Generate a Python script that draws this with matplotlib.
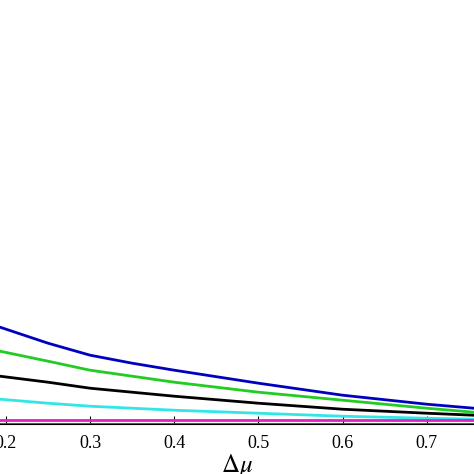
import matplotlib
matplotlib.use("Agg")
import matplotlib.pyplot as plt

x = [0.193, 0.25, 0.3, 0.35, 0.4, 0.5, 0.6, 0.7, 0.756]
blue = [0.97, 0.81, 0.69, 0.61, 0.54, 0.41, 0.29, 0.20, 0.16]
green = [0.73, 0.63, 0.54, 0.48, 0.42, 0.32, 0.24, 0.16, 0.12]
black = [0.48, 0.42, 0.36, 0.32, 0.28, 0.21, 0.15, 0.11, 0.09]
cyan = [0.25, 0.21, 0.18, 0.16, 0.14, 0.11, 0.08, 0.06, 0.05]
magenta = [0.04, 0.04, 0.04, 0.04, 0.04, 0.04, 0.04, 0.04, 0.04]
red = [0.005] * 9
xticks = [0.2, 0.3, 0.4, 0.5, 0.6, 0.7]

plt.rcParams['font.family'] = ['Liberation Serif', 'DejaVu Serif']
plt.rcParams['mathtext.fontset'] = 'stix'
fig = plt.figure(figsize=(4.74, 4.74), dpi=100)
ax = fig.add_axes([0.0, 0.105, 1.0, 0.895])
for y, c in [(blue, '#0000c0'), (green, '#22cc22'), (black, 'black'),
             (cyan, '#33e6e6'), (magenta, '#e020c0'), (red, '#c01040')]:
    ax.plot(x, y, color=c, lw=2)
ax.set_xlim(0.193, 0.756)
ax.set_ylim(0, 4.24)
ax.set_xticks(xticks)
ax.set_xticklabels([f"{t:.1f}" for t in xticks], fontsize=13)
ax.set_yticks([])
ax.tick_params(axis='x', direction='in', length=6, pad=8)
for s in ['top', 'left', 'right']:
    ax.spines[s].set_visible(False)
ax.set_xlabel(r'$\Delta\mu$', fontsize=18, labelpad=0)
fig.savefig('out.png', dpi=100)
